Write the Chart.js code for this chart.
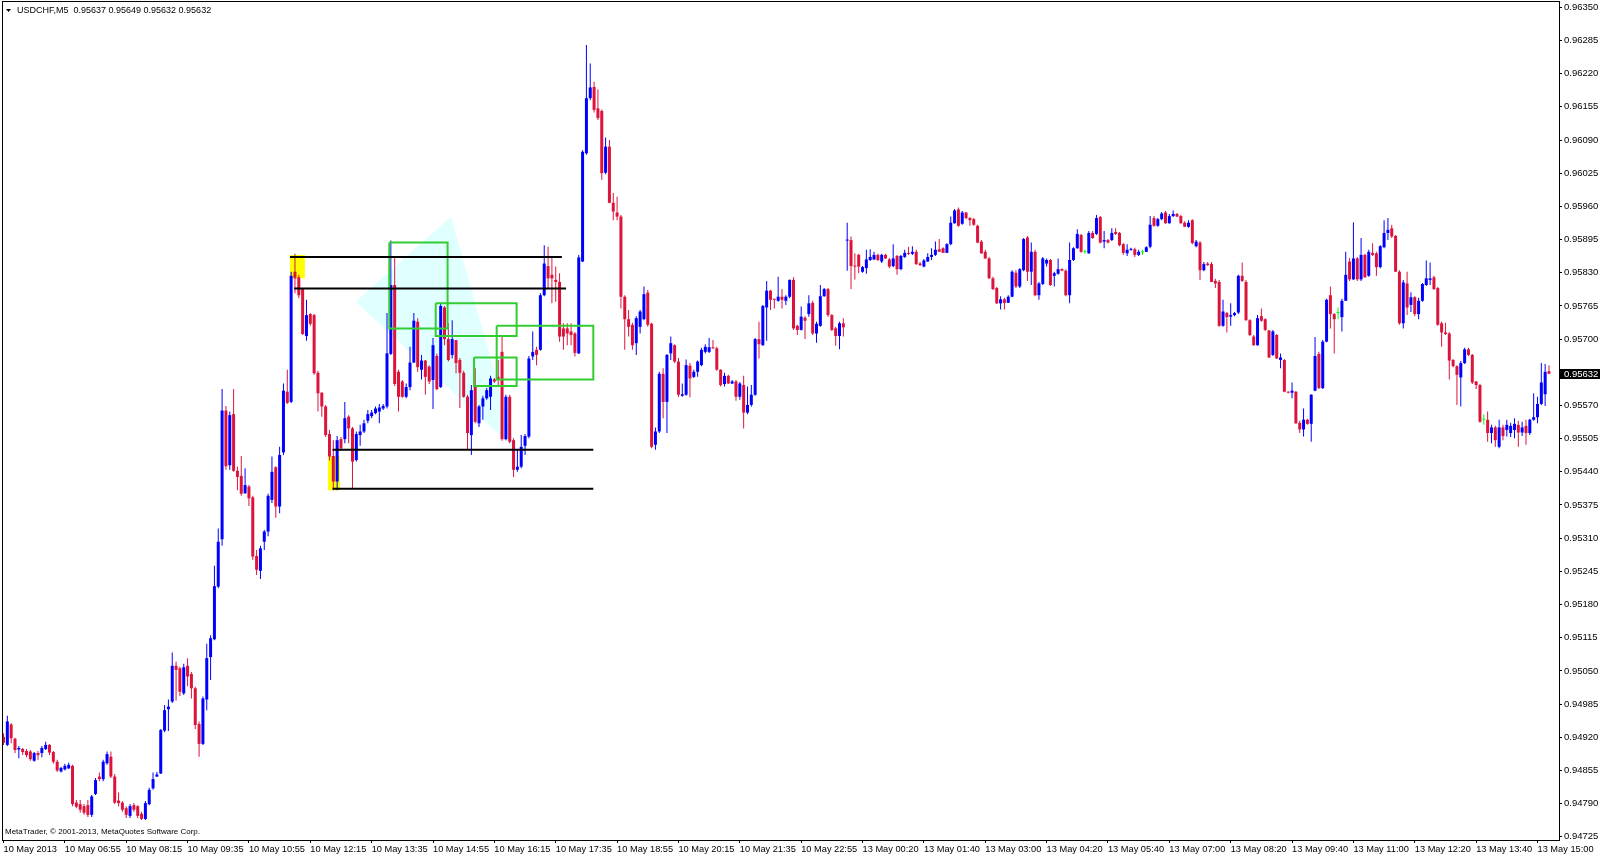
<!DOCTYPE html>
<html>
<head>
<meta charset="utf-8">
<title>USDCHF,M5</title>
<script src="https://cdn.jsdelivr.net/npm/chart.js@4.4.1/dist/chart.umd.min.js"></script>
<style>
html, body { margin: 0; padding: 0; background: #fff; }
#wrap { width: 1600px; height: 857px; position: relative; }
</style>
</head>
<body>
<div id="wrap"><canvas id="chart" width="1600" height="857"></canvas></div>
<script>
// USDCHF M5 candles, 10-13 May 2013
var opens = [
0.94921,0.94905,0.94945,0.94917,0.94896,0.94897,0.94893,0.94892,0.94874,0.94889,
0.94889,0.94897,0.94905,0.94891,0.94872,0.94853,0.94857,0.94859,0.94864,0.94792,
0.94789,0.94785,0.94787,0.94768,0.94809,0.94843,0.94838,0.94869,0.94882,0.94843,
0.94796,0.94792,0.94781,0.94766,0.94787,0.94785,0.94770,0.94760,0.94789,0.94820,
0.94843,0.94849,0.94933,0.94975,0.94990,0.95060,0.95055,0.95006,0.95060,0.95044,
0.95016,0.94946,0.94907,0.94994,0.95077,0.95112,0.95215,0.95308,0.95560,0.95453,
0.95553,0.95442,0.95432,0.95398,0.95411,0.95390,0.95275,0.95246,0.95303,0.95323,
0.95385,0.95449,0.95372,0.95478,0.95597,0.95577,0.95832,0.95821,0.95798,0.95706,
0.95749,0.95747,0.95634,0.95595,0.95568,0.95514,0.95471,0.95421,0.95504,0.95504,
0.95548,0.95525,0.95463,0.95512,0.95519,0.95540,0.95549,0.95555,0.95558,0.95564,
0.95568,0.95671,0.95806,0.95636,0.95617,0.95587,0.95606,0.95654,0.95734,0.95640,
0.95658,0.95646,0.95620,0.95667,0.95606,0.95762,0.95700,0.95669,0.95698,0.95659,
0.95634,0.95587,0.95512,0.95607,0.95535,0.95568,0.95584,0.95587,0.95621,0.95626,
0.95675,0.95504,0.95587,0.95502,0.95444,0.95450,0.95491,0.95509,0.95666,0.95679,
0.95679,0.95786,0.95843,0.95826,0.95816,0.95812,0.95721,0.95721,0.95715,0.95711,
0.95672,0.95852,0.96064,0.96172,0.96194,0.96152,0.96147,0.96026,0.96077,0.95967,
0.95948,0.95940,0.95783,0.95739,0.95728,0.95692,0.95724,0.95739,0.95791,0.95730,
0.95493,0.95519,0.95632,0.95577,0.95672,0.95688,0.95656,0.95589,0.95591,0.95648,
0.95626,0.95636,0.95649,0.95675,0.95675,0.95684,0.95682,0.95640,0.95612,0.95628,
0.95613,0.95617,0.95587,0.95610,0.95556,0.95571,0.95591,0.95700,0.95688,0.95762,
0.95795,0.95778,0.95775,0.95783,0.95775,0.95783,0.95816,0.95726,0.95718,0.95742,
0.95749,0.95771,0.95711,0.95726,0.95784,0.95798,0.95747,0.95721,0.95706,0.95731,
0.95893,0.95894,0.95843,0.95865,0.95832,0.95839,0.95855,0.95856,0.95865,0.95852,
0.95865,0.95856,0.95843,0.95863,0.95837,0.95861,0.95869,0.95867,0.95871,0.95848,
0.95842,0.95852,0.95861,0.95865,0.95876,0.95878,0.95869,0.95886,0.95927,0.95954,
0.95926,0.95948,0.95937,0.95935,0.95922,0.95891,0.95871,0.95858,0.95819,0.95800,
0.95770,0.95778,0.95771,0.95783,0.95830,0.95803,0.95835,0.95899,0.95832,0.95871,
0.95786,0.95808,0.95848,0.95855,0.95824,0.95828,0.95837,0.95834,0.95786,0.95855,
0.95878,0.95904,0.95871,0.95868,0.95908,0.95906,0.95939,0.95891,0.95894,0.95894,
0.95910,0.95908,0.95886,0.95868,0.95875,0.95876,0.95865,0.95870,0.95871,0.95881,
0.95937,0.95922,0.95935,0.95948,0.95927,0.95941,0.95945,0.95941,0.95928,0.95920,
0.95933,0.95882,0.95889,0.95835,0.95848,0.95847,0.95814,0.95812,0.95726,0.95751,
0.95744,0.95747,0.95752,0.95824,0.95812,0.95737,0.95705,0.95688,0.95745,0.95739,
0.95717,0.95669,0.95708,0.95659,0.95659,0.95597,0.95595,0.95597,0.95536,0.95523,
0.95542,0.95534,0.95599,0.95671,0.95604,0.95695,0.95786,0.95749,0.95751,0.95743,
0.95775,0.95852,0.95817,0.95858,0.95817,0.95865,0.95824,0.95869,0.95868,0.95841,
0.95880,0.95908,0.95917,0.95902,0.95832,0.95731,0.95809,0.95767,0.95782,0.95749,
0.95775,0.95806,0.95816,0.95821,0.95800,0.95731,0.95713,0.95711,0.95659,0.95647,
0.95625,0.95653,0.95680,0.95669,0.95617,0.95610,0.95542,0.95542,0.95516,0.95527,
0.95489,0.95527,0.95522,0.95516,0.95522,0.95532,0.95517,0.95530,0.95516,0.95542,
0.95547,0.95573,0.95592,0.95637
];
var highs = [
0.94928,0.94962,0.94948,0.94919,0.94903,0.94899,0.94897,0.94895,0.94891,0.94893,
0.94903,0.94911,0.94907,0.94893,0.94876,0.94862,0.94868,0.94870,0.94866,0.94797,
0.94797,0.94789,0.94797,0.94807,0.94840,0.94851,0.94876,0.94892,0.94892,0.94848,
0.94812,0.94795,0.94785,0.94789,0.94791,0.94787,0.94774,0.94795,0.94821,0.94851,
0.94852,0.94936,0.94983,0.94994,0.95086,0.95068,0.95058,0.95064,0.95075,0.95048,
0.95019,0.94951,0.95000,0.95103,0.95120,0.95256,0.95329,0.95602,0.95569,0.95558,
0.95602,0.95450,0.95471,0.95447,0.95414,0.95393,0.95287,0.95295,0.95326,0.95397,
0.95470,0.95451,0.95489,0.95613,0.95640,0.95832,0.95867,0.95826,0.95800,0.95777,
0.95751,0.95749,0.95638,0.95596,0.95571,0.95522,0.95502,0.95510,0.95508,0.95577,
0.95551,0.95528,0.95519,0.95532,0.95542,0.95561,0.95561,0.95568,0.95573,0.95573,
0.95751,0.95893,0.95861,0.95640,0.95620,0.95613,0.95685,0.95751,0.95741,0.95669,
0.95659,0.95649,0.95702,0.95672,0.95771,0.95765,0.95731,0.95737,0.95698,0.95663,
0.95638,0.95591,0.95610,0.95643,0.95571,0.95589,0.95604,0.95628,0.95624,0.95659,
0.95705,0.95591,0.95591,0.95506,0.95484,0.95512,0.95514,0.95667,0.95715,0.95685,
0.95790,0.95884,0.95881,0.95861,0.95842,0.95829,0.95731,0.95731,0.95731,0.95714,
0.95865,0.96070,0.96276,0.96240,0.96204,0.96189,0.96150,0.96095,0.96090,0.95986,
0.95979,0.95943,0.95786,0.95757,0.95732,0.95745,0.95757,0.95803,0.95796,0.95732,
0.95527,0.95636,0.95643,0.95671,0.95705,0.95690,0.95663,0.95613,0.95660,0.95653,
0.95640,0.95658,0.95683,0.95690,0.95702,0.95698,0.95685,0.95641,0.95634,0.95630,
0.95620,0.95620,0.95616,0.95628,0.95607,0.95610,0.95702,0.95734,0.95767,0.95814,
0.95796,0.95779,0.95822,0.95798,0.95786,0.95817,0.95821,0.95728,0.95764,0.95745,
0.95786,0.95775,0.95734,0.95806,0.95800,0.95800,0.95749,0.95724,0.95734,0.95741,
0.95928,0.95901,0.95868,0.95867,0.95843,0.95875,0.95876,0.95871,0.95867,0.95867,
0.95867,0.95859,0.95886,0.95865,0.95865,0.95875,0.95881,0.95882,0.95875,0.95851,
0.95857,0.95868,0.95878,0.95891,0.95896,0.95880,0.95888,0.95940,0.95955,0.95958,
0.95951,0.95949,0.95939,0.95937,0.95924,0.95894,0.95875,0.95861,0.95822,0.95802,
0.95784,0.95781,0.95786,0.95835,0.95835,0.95839,0.95898,0.95902,0.95889,0.95875,
0.95812,0.95861,0.95858,0.95857,0.95832,0.95858,0.95839,0.95837,0.95889,0.95880,
0.95915,0.95906,0.95875,0.95912,0.95912,0.95943,0.95941,0.95912,0.95896,0.95917,
0.95917,0.95910,0.95888,0.95886,0.95879,0.95879,0.95875,0.95875,0.95882,0.95941,
0.95941,0.95937,0.95949,0.95951,0.95945,0.95952,0.95947,0.95943,0.95931,0.95933,
0.95935,0.95894,0.95892,0.95851,0.95851,0.95851,0.95818,0.95816,0.95777,0.95753,
0.95770,0.95753,0.95826,0.95850,0.95816,0.95739,0.95708,0.95747,0.95760,0.95741,
0.95718,0.95718,0.95710,0.95672,0.95661,0.95598,0.95615,0.95598,0.95540,0.95564,
0.95544,0.95592,0.95704,0.95675,0.95698,0.95779,0.95803,0.95751,0.95762,0.95779,
0.95871,0.95859,0.95929,0.95861,0.95898,0.95867,0.95875,0.95888,0.95871,0.95884,
0.95933,0.95937,0.95924,0.95904,0.95835,0.95816,0.95832,0.95792,0.95784,0.95781,
0.95810,0.95854,0.95850,0.95824,0.95802,0.95734,0.95732,0.95714,0.95661,0.95649,
0.95657,0.95683,0.95683,0.95671,0.95618,0.95612,0.95553,0.95558,0.95532,0.95530,
0.95542,0.95532,0.95542,0.95536,0.95545,0.95540,0.95538,0.95542,0.95544,0.95594,
0.95587,0.95653,0.95651,0.95649
];
var lows = [
0.94905,0.94903,0.94908,0.94889,0.94879,0.94885,0.94881,0.94874,0.94872,0.94876,
0.94881,0.94895,0.94885,0.94868,0.94852,0.94851,0.94855,0.94858,0.94785,0.94781,
0.94772,0.94768,0.94764,0.94764,0.94807,0.94834,0.94834,0.94866,0.94840,0.94789,
0.94785,0.94774,0.94762,0.94762,0.94774,0.94762,0.94758,0.94758,0.94787,0.94817,
0.94842,0.94848,0.94930,0.94932,0.94987,0.94992,0.95001,0.95003,0.95020,0.94996,
0.94936,0.94882,0.94905,0.94973,0.95032,0.95110,0.95212,0.95295,0.95444,0.95444,
0.95440,0.95404,0.95393,0.95397,0.95373,0.95267,0.95238,0.95230,0.95287,0.95314,
0.95379,0.95350,0.95359,0.95473,0.95573,0.95575,0.95790,0.95780,0.95708,0.95697,
0.95726,0.95630,0.95558,0.95548,0.95508,0.95462,0.95404,0.95404,0.95481,0.95496,
0.95496,0.95408,0.95460,0.95491,0.95516,0.95535,0.95545,0.95553,0.95535,0.95561,
0.95564,0.95669,0.95608,0.95558,0.95585,0.95584,0.95600,0.95653,0.95636,0.95621,
0.95591,0.95612,0.95563,0.95600,0.95604,0.95688,0.95656,0.95662,0.95633,0.95565,
0.95585,0.95483,0.95473,0.95535,0.95528,0.95542,0.95581,0.95561,0.95614,0.95610,
0.95501,0.95502,0.95496,0.95430,0.95440,0.95447,0.95473,0.95506,0.95659,0.95649,
0.95677,0.95784,0.95800,0.95770,0.95773,0.95695,0.95679,0.95688,0.95688,0.95666,
0.95671,0.95851,0.96061,0.96168,0.96144,0.96129,0.96012,0.96023,0.95966,0.95933,
0.95933,0.95760,0.95679,0.95705,0.95679,0.95669,0.95711,0.95737,0.95724,0.95486,
0.95483,0.95516,0.95545,0.95516,0.95659,0.95653,0.95587,0.95587,0.95589,0.95586,
0.95624,0.95626,0.95647,0.95672,0.95673,0.95681,0.95638,0.95607,0.95607,0.95612,
0.95612,0.95579,0.95581,0.95525,0.95553,0.95568,0.95589,0.95662,0.95687,0.95697,
0.95757,0.95760,0.95773,0.95760,0.95767,0.95780,0.95718,0.95708,0.95717,0.95700,
0.95744,0.95708,0.95693,0.95724,0.95783,0.95744,0.95716,0.95687,0.95680,0.95705,
0.95834,0.95798,0.95817,0.95829,0.95830,0.95828,0.95853,0.95855,0.95853,0.95849,
0.95857,0.95839,0.95841,0.95826,0.95835,0.95859,0.95865,0.95865,0.95845,0.95843,
0.95841,0.95851,0.95855,0.95863,0.95871,0.95869,0.95869,0.95884,0.95926,0.95920,
0.95924,0.95935,0.95922,0.95922,0.95888,0.95867,0.95857,0.95818,0.95796,0.95769,
0.95758,0.95758,0.95771,0.95782,0.95800,0.95800,0.95833,0.95814,0.95806,0.95784,
0.95777,0.95806,0.95842,0.95804,0.95803,0.95826,0.95833,0.95784,0.95770,0.95853,
0.95877,0.95869,0.95867,0.95867,0.95896,0.95904,0.95888,0.95878,0.95888,0.95892,
0.95904,0.95882,0.95865,0.95863,0.95873,0.95861,0.95863,0.95865,0.95871,0.95878,
0.95920,0.95920,0.95933,0.95926,0.95926,0.95939,0.95939,0.95926,0.95920,0.95918,
0.95886,0.95880,0.95816,0.95833,0.95843,0.95812,0.95800,0.95724,0.95724,0.95713,
0.95726,0.95745,0.95749,0.95812,0.95736,0.95706,0.95687,0.95687,0.95734,0.95716,
0.95663,0.95667,0.95661,0.95643,0.95596,0.95594,0.95584,0.95534,0.95516,0.95509,
0.95532,0.95499,0.95598,0.95602,0.95602,0.95694,0.95721,0.95672,0.95739,0.95715,
0.95775,0.95814,0.95816,0.95814,0.95814,0.95820,0.95822,0.95863,0.95824,0.95839,
0.95878,0.95894,0.95898,0.95832,0.95728,0.95721,0.95747,0.95753,0.95745,0.95739,
0.95773,0.95804,0.95806,0.95796,0.95726,0.95685,0.95708,0.95621,0.95645,0.95571,
0.95568,0.95651,0.95667,0.95612,0.95602,0.95536,0.95532,0.95499,0.95496,0.95489,
0.95486,0.95502,0.95509,0.95508,0.95506,0.95489,0.95510,0.95493,0.95512,0.95540,
0.95535,0.95571,0.95569,0.95632
];
var closes = [
0.94909,0.94951,0.94918,0.94895,0.94899,0.94891,0.94885,0.94877,0.94889,0.94885,
0.94899,0.94905,0.94890,0.94872,0.94855,0.94860,0.94864,0.94866,0.94789,0.94784,
0.94778,0.94772,0.94768,0.94804,0.94836,0.94838,0.94872,0.94887,0.94843,0.94792,
0.94791,0.94778,0.94768,0.94785,0.94778,0.94766,0.94760,0.94791,0.94817,0.94838,
0.94847,0.94934,0.94973,0.94980,0.95060,0.95052,0.95009,0.95057,0.95039,0.95016,
0.94944,0.94907,0.94996,0.95075,0.95114,0.95216,0.95303,0.95560,0.95451,0.95551,
0.95442,0.95430,0.95397,0.95414,0.95388,0.95274,0.95248,0.95290,0.95323,0.95393,
0.95440,0.95372,0.95473,0.95599,0.95575,0.95824,0.95819,0.95786,0.95710,0.95747,
0.95730,0.95633,0.95594,0.95568,0.95512,0.95470,0.95421,0.95502,0.95486,0.95545,
0.95525,0.95460,0.95514,0.95519,0.95535,0.95553,0.95556,0.95564,0.95566,0.95569,
0.95672,0.95806,0.95612,0.95587,0.95587,0.95606,0.95654,0.95736,0.95645,0.95658,
0.95626,0.95617,0.95688,0.95602,0.95765,0.95700,0.95659,0.95700,0.95653,0.95634,
0.95587,0.95516,0.95600,0.95538,0.95568,0.95584,0.95600,0.95623,0.95617,0.95620,
0.95504,0.95587,0.95499,0.95444,0.95450,0.95489,0.95510,0.95662,0.95675,0.95669,
0.95786,0.95848,0.95819,0.95819,0.95812,0.95705,0.95705,0.95711,0.95708,0.95673,
0.95860,0.96067,0.96172,0.96193,0.96149,0.96133,0.96025,0.96077,0.95967,0.95950,
0.95940,0.95783,0.95739,0.95724,0.95688,0.95741,0.95754,0.95788,0.95728,0.95489,
0.95519,0.95632,0.95577,0.95669,0.95692,0.95656,0.95591,0.95592,0.95649,0.95623,
0.95636,0.95656,0.95679,0.95685,0.95684,0.95682,0.95640,0.95610,0.95628,0.95613,
0.95617,0.95587,0.95613,0.95556,0.95571,0.95591,0.95700,0.95690,0.95765,0.95795,
0.95777,0.95777,0.95783,0.95777,0.95783,0.95816,0.95721,0.95718,0.95744,0.95736,
0.95770,0.95711,0.95730,0.95784,0.95798,0.95747,0.95718,0.95706,0.95731,0.95723,
0.95894,0.95843,0.95842,0.95842,0.95841,0.95856,0.95861,0.95865,0.95855,0.95865,
0.95858,0.95842,0.95858,0.95837,0.95863,0.95869,0.95867,0.95871,0.95847,0.95845,
0.95854,0.95861,0.95865,0.95875,0.95871,0.95869,0.95886,0.95928,0.95952,0.95922,
0.95948,0.95937,0.95933,0.95924,0.95889,0.95868,0.95858,0.95819,0.95798,0.95770,
0.95778,0.95771,0.95783,0.95832,0.95803,0.95837,0.95896,0.95832,0.95871,0.95786,
0.95809,0.95858,0.95855,0.95806,0.95829,0.95837,0.95834,0.95786,0.95855,0.95878,
0.95906,0.95871,0.95871,0.95908,0.95898,0.95937,0.95889,0.95894,0.95889,0.95908,
0.95906,0.95884,0.95869,0.95875,0.95876,0.95865,0.95871,0.95870,0.95880,0.95924,
0.95922,0.95935,0.95946,0.95927,0.95941,0.95945,0.95940,0.95927,0.95920,0.95928,
0.95888,0.95891,0.95835,0.95847,0.95845,0.95812,0.95809,0.95726,0.95754,0.95743,
0.95747,0.95751,0.95824,0.95814,0.95737,0.95708,0.95688,0.95741,0.95736,0.95718,
0.95664,0.95715,0.95662,0.95664,0.95597,0.95595,0.95599,0.95535,0.95523,0.95542,
0.95534,0.95591,0.95667,0.95604,0.95695,0.95777,0.95749,0.95739,0.95751,0.95775,
0.95826,0.95817,0.95858,0.95817,0.95865,0.95821,0.95871,0.95865,0.95841,0.95882,
0.95908,0.95914,0.95901,0.95832,0.95731,0.95811,0.95762,0.95782,0.95749,0.95775,
0.95808,0.95819,0.95819,0.95798,0.95728,0.95713,0.95710,0.95658,0.95647,0.95630,
0.95653,0.95680,0.95669,0.95615,0.95610,0.95538,0.95542,0.95516,0.95527,0.95502,
0.95527,0.95510,0.95532,0.95530,0.95534,0.95517,0.95527,0.95516,0.95542,0.95547,
0.95573,0.95615,0.95636,0.95632
];

// one time label every 16 bars
var timeLabels = ['10 May 2013','10 May 06:55','10 May 08:15','10 May 09:35','10 May 10:55','10 May 12:15',
  '10 May 13:35','10 May 14:55','10 May 16:15','10 May 17:35','10 May 18:55','10 May 20:15','10 May 21:35',
  '10 May 22:55','13 May 00:20','13 May 01:40','13 May 03:00','13 May 04:20','13 May 05:40','13 May 07:00',
  '13 May 08:20','13 May 09:40','13 May 11:00','13 May 12:20','13 May 13:40','13 May 15:00'];
var priceTicks = [0.94725,0.94790,0.94855,0.94920,0.94985,0.95050,0.95115,0.95180,0.95245,0.95310,0.95375,
  0.95440,0.95505,0.95570,0.95635,0.95700,0.95765,0.95830,0.95895,0.95960,0.96025,0.96090,0.96155,0.96220,
  0.96285,0.96350];

// drawn objects: [bar from, bar to, price]
var hLines = [[74.7, 145.6, 0.95861], [75.8, 146.7, 0.95799], [85.8, 153.8, 0.95483], [85.8, 153.8, 0.95407]];
// [bar from, bar to, price top, price bottom]
var yellowBoxes = [[74.7, 78.6, 0.95865, 0.95819], [84.6, 87.7, 0.95470, 0.95404]];
var greenBoxes = [[100.6, 115.8, 0.95889, 0.95721], [112.7, 133.8, 0.95770, 0.95706],
  [128.6, 153.8, 0.95726, 0.95621], [122.7, 133.8, 0.95664, 0.95608]];
var triangle = [[116.7, 0.95940], [91.8, 0.95773], [133.6, 0.95483]];

var BULL = '#0000ff', BEAR = '#dc143c', DOJI = '#00ff00';
var FONT = 'Liberation Sans';

var candleColors = closes.map(function (c, i) {
    if (c > opens[i]) return BULL;
    if (c < opens[i]) return BEAR;
    return DOJI;
});

function boxPoints(b) {
    return [{x: b[0], y: b[2]}, {x: b[1], y: b[2]}, {x: b[1], y: b[3]}, {x: b[0], y: b[3]}, {x: b[0], y: b[2]}];
}
function shapeSet(points, stroke, width, fill, order) {
    return {
        type: 'line',
        data: points,
        borderColor: stroke || 'rgba(0,0,0,0)',
        borderWidth: width,
        backgroundColor: fill || 'rgba(0,0,0,0)',
        fill: fill ? 'shape' : false,
        pointRadius: 0,
        pointHoverRadius: 0,
        tension: 0,
        order: order
    };
}

var datasets = [];
// background objects
datasets.push(shapeSet(triangle.concat([triangle[0]]).map(function (p) { return {x: p[0], y: p[1]}; }), null, 0, '#e0ffff', 20));
yellowBoxes.forEach(function (b) { datasets.push(shapeSet(boxPoints(b), null, 0, '#ffff00', 20)); });
// candles
datasets.push({
    type: 'bar',
    data: lows.map(function (l, i) { return {x: i, y: [l, highs[i]]}; }),
    backgroundColor: candleColors,
    grouped: false, maxBarThickness: 1, barPercentage: 1, categoryPercentage: 1,
    inflateAmount: 0, minBarLength: 1, order: 6
});
datasets.push({
    type: 'bar',
    data: opens.map(function (o, i) { return {x: i, y: [o, closes[i]]}; }),
    backgroundColor: candleColors,
    grouped: false, maxBarThickness: 3, barPercentage: 1, categoryPercentage: 1,
    inflateAmount: 0, minBarLength: 1, order: 5
});
// lines and frames on top
hLines.forEach(function (l) { datasets.push(shapeSet([{x: l[0], y: l[2]}, {x: l[1], y: l[2]}], '#000000', 2, null, 1)); });
greenBoxes.forEach(function (b) { datasets.push(shapeSet(boxPoints(b), '#32cd32', 2, null, 1)); });

var mtDecor = {
    id: 'mtDecor',
    afterDraw: function (chart) {
        var ctx = chart.ctx, a = chart.chartArea, y = chart.scales.y;
        ctx.save();
        ctx.strokeStyle = '#000';
        ctx.lineWidth = 1;
        ctx.strokeRect(2.5, 1.5, a.right - 2.5 + 0.5, a.bottom - 1.5 + 0.5);

        ctx.fillStyle = '#000';
        ctx.beginPath();
        ctx.moveTo(6, 9); ctx.lineTo(11, 9); ctx.lineTo(8.5, 12); ctx.closePath();
        ctx.fill();
        ctx.font = '9px "' + FONT + '"';
        ctx.textBaseline = 'middle';
        ctx.textAlign = 'left';
        var last = closes.length - 1;
        ctx.fillText('USDCHF,M5  ' + opens[last].toFixed(5) + ' ' + highs[last].toFixed(5) + ' ' +
            lows[last].toFixed(5) + ' ' + closes[last].toFixed(5), 17, 11);
        ctx.font = '8px "' + FONT + '"';
        ctx.fillText('MetaTrader, \u00a9 2001-2013, MetaQuotes Software Corp.', 5, 832);

        var py = Math.round(y.getPixelForValue(closes[last]));
        ctx.fillRect(1560, py - 5, 40, 10);
        ctx.fillStyle = '#fff';
        ctx.font = '9.5px "' + FONT + '"';
        ctx.fillText(closes[last].toFixed(5), 1564, py + 0.5);
        ctx.restore();
    }
};

new Chart(document.getElementById('chart'), {
    type: 'bar',
    data: { datasets: datasets },
    options: {
        responsive: false,
        devicePixelRatio: 1,
        animation: false,
        events: [],
        layout: { padding: { left: 3, top: 2, right: 0, bottom: 0 } },
        plugins: { legend: { display: false }, tooltip: { enabled: false } },
        scales: {
            x: {
                type: 'linear',
                min: -0.13,
                max: 405.61,
                offset: false,
                afterBuildTicks: function (s) { s.ticks = timeLabels.map(function (t, k) { return {value: k * 16}; }); },
                afterFit: function (s) { s.height = 17; s.paddingLeft = 0; s.paddingRight = 0; },
                ticks: {
                    autoSkip: false, maxRotation: 0, align: 'start', padding: 1, color: '#000',
                    font: { family: FONT, size: 9.25 },
                    callback: function (v) { return timeLabels[Math.round(v / 16)]; }
                },
                grid: { drawOnChartArea: false, drawTicks: true, tickLength: 3, color: '#000', offset: false },
                border: { display: false }
            },
            y: {
                type: 'linear',
                position: 'right',
                min: 0.947187,
                max: 0.963604,
                beginAtZero: false,
                afterBuildTicks: function (s) { s.ticks = priceTicks.map(function (v) { return {value: v}; }); },
                afterFit: function (s) { s.width = 41; s.paddingTop = 0; s.paddingBottom = 0; },
                ticks: {
                    autoSkip: false, padding: 2, color: '#000',
                    font: { family: FONT, size: 9.5 },
                    callback: function (v) { return Number(v).toFixed(5); }
                },
                grid: { drawOnChartArea: false, drawTicks: true, tickLength: 3, color: '#000' },
                border: { display: false }
            }
        }
    },
    plugins: [mtDecor]
});
</script>
</body>
</html>
